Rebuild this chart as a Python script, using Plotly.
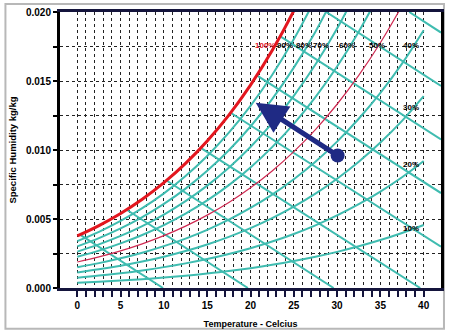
import plotly.graph_objects as go

# ---------------- data ----------------
temps = [0, 2.5, 5, 7.5, 10, 12.5, 15, 17.5, 20, 22.5, 25, 27.5, 30, 32.5, 35, 37.5, 40]

rh_levels = [100, 90, 80, 70, 60, 50, 40, 30, 20, 10]

w_rh100 = [0.003775, 0.004524, 0.005403, 0.006432, 0.007632, 0.009028, 0.010650, 0.012527, 0.014699, 0.017202, 0.020087, 0.023394]
w_rh90 = [0.003395, 0.004068, 0.004858, 0.005783, 0.006860, 0.008114, 0.009569, 0.011252, 0.013198, 0.015439, 0.018021, 0.020975]
w_rh80 = [0.003016, 0.003614, 0.004315, 0.005135, 0.006091, 0.007202, 0.008491, 0.009982, 0.011704, 0.013686, 0.015967, 0.018576, 0.021581]
w_rh70 = [0.002637, 0.003160, 0.003772, 0.004489, 0.005323, 0.006293, 0.007417, 0.008717, 0.010217, 0.011942, 0.013926, 0.016193, 0.018801, 0.021782]
w_rh60 = [0.002259, 0.002706, 0.003231, 0.003843, 0.004557, 0.005386, 0.006347, 0.007456, 0.008737, 0.010208, 0.011898, 0.013829, 0.016047, 0.018577, 0.021448]
w_rh50 = [0.001882, 0.002254, 0.002690, 0.003200, 0.003793, 0.004482, 0.005280, 0.006201, 0.007264, 0.008484, 0.009884, 0.011481, 0.013315, 0.015404, 0.017772, 0.020453]
w_rh40 = [0.001505, 0.001802, 0.002150, 0.002557, 0.003031, 0.003580, 0.004217, 0.004951, 0.005798, 0.006768, 0.007882, 0.009151, 0.010606, 0.012263, 0.014136, 0.016256, 0.018678]
w_rh30 = [0.001128, 0.001351, 0.001611, 0.001916, 0.002270, 0.002681, 0.003157, 0.003706, 0.004338, 0.005063, 0.005893, 0.006838, 0.007921, 0.009152, 0.010543, 0.012112, 0.013904]
w_rh20 = [0.000751, 0.000900, 0.001073, 0.001276, 0.001512, 0.001785, 0.002101, 0.002466, 0.002885, 0.003366, 0.003916, 0.004542, 0.005258, 0.006071, 0.006989, 0.008023, 0.009201]
w_rh10 = [0.000375, 0.000450, 0.000536, 0.000637, 0.000755, 0.000891, 0.001049, 0.001230, 0.001439, 0.001678, 0.001952, 0.002263, 0.002618, 0.003021, 0.003475, 0.003986, 0.004567]

# constant-enthalpy lines (kJ/kg): start / end points
enthalpy_levels = [10, 20, 30, 40, 50, 60, 70, 80, 90]
enth_t_start = [0.3, 5.7, 10.3, 14.25, 17.7, 20.73, 23.45, 28.74, 38.33]
enth_w_start = [0.00387, 0.00567, 0.00779, 0.01015, 0.0127, 0.01541, 0.01824, 0.020, 0.020]
enth_t_end = [9.9, 19.7, 29.6, 39.6, 42, 42, 42, 42, 42]
enth_w_end = [0.0, 0.0, 0.0, 0.0, 0.00300, 0.00688, 0.01076, 0.01464, 0.01851]

# process arrow (evaporative cooling)
arrow_from = (30.06, 0.0096)
arrow_to = (20.6, 0.01343)

x_tick_vals = list(range(0, 41))
x_tick_text = [str(v) if v % 5 == 0 else "" for v in x_tick_vals]
y_tick_vals = [0.0, 0.0025, 0.005, 0.0075, 0.01, 0.0125, 0.015, 0.0175, 0.02]
y_tick_text = ["0.000", "", "0.005", "", "0.010", "", "0.015", "", "0.020"]

# ---------------- figure ----------------
TEAL = "#3fbcb0"
RED = "#e3161e"
CRIMSON = "#cf2a52"
NAVY = "#1f2a84"
FONT = "Liberation Sans, Arial, sans-serif"

fig = go.Figure()

for h, t0, w0, t1, w1 in zip(enthalpy_levels, enth_t_start, enth_w_start, enth_t_end, enth_w_end):
    fig.add_trace(go.Scatter(x=[t0, t1], y=[w0, w1], mode="lines",
                             line=dict(color=TEAL, width=2), hoverinfo="skip",
                             showlegend=False))

rh_series = {100: w_rh100, 90: w_rh90, 80: w_rh80, 70: w_rh70, 60: w_rh60,
             50: w_rh50, 40: w_rh40, 30: w_rh30, 20: w_rh20, 10: w_rh10}

for rh in [90, 80, 70, 60, 40, 30, 20, 10]:
    w = rh_series[rh]
    fig.add_trace(go.Scatter(x=temps[:len(w)], y=w, mode="lines",
                             line=dict(color=TEAL, width=2, shape="spline"),
                             showlegend=False))

fig.add_trace(go.Scatter(x=temps[:len(w_rh50)], y=w_rh50, mode="lines",
                         line=dict(color=CRIMSON, width=1.2, shape="spline"),
                         showlegend=False))
fig.add_trace(go.Scatter(x=temps[:len(w_rh100)], y=w_rh100, mode="lines",
                         line=dict(color=RED, width=3, shape="spline"),
                         showlegend=False))

# arrow start dot
fig.add_trace(go.Scatter(x=[arrow_from[0]], y=[arrow_from[1]], mode="markers",
                         marker=dict(color=NAVY, size=14), showlegend=False))
fig.add_annotation(x=arrow_to[0], y=arrow_to[1], ax=arrow_from[0], ay=arrow_from[1],
                   xref="x", yref="y", axref="x", ayref="y", text="",
                   showarrow=True, arrowhead=2, arrowsize=1.25, arrowwidth=5,
                   arrowcolor=NAVY)

# RH labels
label_font = dict(family=FONT, size=8, color="black", weight="bold")
top_labels = [("100%", 21.68, RED), ("90%", 24.0, "black"), ("80%", 26.23, "black"),
              ("70%", 28.17, "black"), ("60%", 31.14, "black"), ("50%", 34.57, "black"),
              ("40%", 38.57, "black")]
for txt, xv, col in top_labels:
    f = dict(label_font)
    f["color"] = col
    fig.add_annotation(x=xv, y=0.0176, text=txt, showarrow=False, font=f,
                       xanchor="center", yanchor="middle")
for txt, yv in [("30%", 0.0131), ("20%", 0.00895), ("10%", 0.00433)]:
    fig.add_annotation(x=38.5, y=yv, text=txt, showarrow=False, font=label_font,
                       xanchor="center", yanchor="middle")

# outer grey frame
fig.add_shape(type="rect", xref="paper", yref="paper",
              x0=-0.1432, x1=1.0078, y0=-0.148, y1=1.0289,
              line=dict(color="#b8b8b8", width=2), layer="below")

fig.update_layout(
    width=450, height=336,
    margin=dict(l=60, r=6, t=11, b=48),
    paper_bgcolor="white", plot_bgcolor="white",
    font=dict(family=FONT, size=10, color="black"),
    xaxis=dict(range=[-2, 42], tickmode="array", tickvals=x_tick_vals, ticktext=x_tick_text,
               ticks="outside", ticklen=6, tickwidth=1.5, tickcolor="#14143c",
               showgrid=True, gridcolor="#222222", gridwidth=1, griddash="dot",
               showline=True, linecolor="#14143c", linewidth=3, mirror=True,
               zeroline=False, tickfont=dict(family=FONT, size=10, weight="bold"),
               title=dict(text="Temperature - Celcius", standoff=11,
                          font=dict(family=FONT, size=9, weight="bold"))),
    yaxis=dict(range=[0, 0.02], tickmode="array", tickvals=y_tick_vals, ticktext=y_tick_text,
               ticks="outside", ticklen=4, tickwidth=1.5, tickcolor="black",
               showgrid=True, gridcolor="#222222", gridwidth=1, griddash="dot",
               showline=True, linecolor="black", linewidth=3, mirror=True,
               zeroline=False, tickfont=dict(family=FONT, size=10, weight="bold"),
               title=dict(text="Specific Humidity kg/kg", standoff=8,
                          font=dict(family=FONT, size=9.5, weight="bold"))),
)

fig.write_html("out.html")
